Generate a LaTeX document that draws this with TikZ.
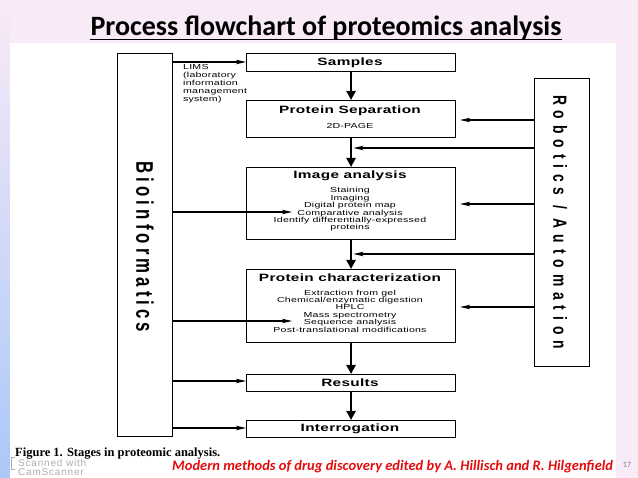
\documentclass[tikz,border=0pt]{standalone}
\usepackage{fontspec}
\setmainfont{Liberation Sans}
\newfontfamily\titlefont{Carlito}
\newfontfamily\diagfont[FakeStretch=1.45,LetterSpace=3]{Liberation Sans}
\newfontfamily\sidefontB[FakeStretch=0.7,LetterSpace=17]{Liberation Sans}
\newfontfamily\sidefontR[FakeStretch=0.73,LetterSpace=31]{Liberation Sans}
\newfontfamily\scanfont[LetterSpace=8]{Liberation Sans}
\newfontfamily\capfont{Liberation Serif}
\usetikzlibrary{arrows.meta}
\definecolor{bgpink}{RGB}{249,234,247}
\definecolor{stripblue}{RGB}{128,178,248}
\definecolor{stripblue2}{RGB}{170,200,248}
\definecolor{redtxt}{RGB}{228,12,12}
\definecolor{scangray}{RGB}{175,175,175}
\tikzset{
  box/.style={draw, line width=1.1pt, inner sep=0pt, anchor=north west},
  hdr/.style={font=\diagfont\bfseries\fontsize{10.6}{11}\selectfont, inner sep=0pt},
  body/.style={font=\diagfont\fontsize{7.3}{7.4}\selectfont, align=center, inner sep=0pt},
  bigarrow/.style={line width=2.6pt, -{Triangle[length=9pt,width=9pt]}},
  thinarrow/.style={line width=1.1pt, -{Stealth[length=10pt,width=4.5pt,inset=2.5pt]}},
}
\begin{document}
\begin{tikzpicture}[x=1pt,y=-1pt]
\useasboundingbox (0,0) rectangle (638,478);
\fill[bgpink] (0,0) rectangle (638,478);
\shade[top color=bgpink, middle color=stripblue, bottom color=stripblue2] (0,0) rectangle (10,478);
\fill[white] (10,43) rectangle (616,478);

% title
\node[font=\titlefont\bfseries\fontsize{28}{32}\selectfont, anchor=base, inner sep=0pt] (title) at (326,36) {Process flowchart of proteomics analysis};
\draw[line width=1.4pt] ([yshift=-3.5pt]title.base west) -- ([yshift=-3.5pt]title.base east);

% side boxes
\node[box, minimum width=55pt, minimum height=383pt] (bio) at (117,53) {};
\node[box, minimum width=55pt, minimum height=288pt] (robo) at (534,78) {};
\node[font=\sidefontB\bfseries\fontsize{24}{25}\selectfont, rotate=-90, inner sep=0pt] (biotxt) at (145,247) {Bioinformatics};
\node[font=\sidefontR\bfseries\fontsize{19}{20}\selectfont, rotate=-90, inner sep=0pt] (robotxt) at (560,222) {Robotics / Automation};

% main boxes
\node[box, minimum width=209pt, minimum height=18pt] (samples) at (246,53) {};
\node[box, minimum width=209pt, minimum height=37pt] (psep) at (246,100) {};
\node[box, minimum width=209pt, minimum height=72pt] (imga) at (246,167) {};
\node[box, minimum width=209pt, minimum height=73pt] (pchar) at (246,269) {};
\node[box, minimum width=209pt, minimum height=17pt] (results) at (246,374) {};
\node[box, minimum width=209pt, minimum height=17pt] (interr) at (246,420) {};

\node[hdr] (samplestxt) at (350,62.5) {Samples};
\node[hdr] (pseptxt) at (350,111) {Protein Separation};
\node[body] (pagetxt) at (350,126) {2D-PAGE};
\node[hdr] (imgatxt) at (350,175.5) {Image analysis};
\node[body] (imgabody) at (350,209.5) {Staining\\Imaging\\Digital protein map\\Comparative analysis\\Identify differentially-expressed\\proteins};
\node[hdr] (pchartxt) at (350,277.5) {Protein characterization};
\node[body] (pcharbody) at (350,311) {Extraction from gel\\Chemical/enzymatic digestion\\HPLC\\Mass spectrometry\\Sequence analysis\\Post-translational modifications};
\node[hdr] (resultstxt) at (350,382.5) {Results};
\node[hdr] (interrtxt) at (350,428.5) {Interrogation};

\node[font=\diagfont\fontsize{7.3}{8}\selectfont, align=left, anchor=north west, inner sep=0pt] (lims) at (183,64.5) {LIMS\\(laboratory\\information\\management\\system)};

% central thick arrows
\draw[bigarrow] (samples.south) -- (psep.north);
\draw[bigarrow] (psep.south) -- (imga.north);
\draw[bigarrow] (imga.south) -- (pchar.north);
\draw[bigarrow] (pchar.south) -- (results.north);
\draw[bigarrow] (results.south) -- (interr.north);

% left arrows from bioinformatics
\coordinate (iatip) at (292,212);
\coordinate (pctip) at (292,321);
\draw[thinarrow] (bio.east |- 0,62) -- (samples.west |- 0,62);
\draw[thinarrow] (bio.east |- iatip) -- (iatip);
\draw[thinarrow] (bio.east |- pctip) -- (pctip);
\draw[thinarrow] (bio.east |- 0,381) -- (results.west |- 0,381);
\draw[thinarrow] (bio.east |- 0,428) -- (interr.west |- 0,428);

% right arrows from robotics
\coordinate (c1) at (353.5,148);
\coordinate (c2) at (353.5,254);
\draw[thinarrow, shorten >=4pt] (robo.west |- 0,120) -- (psep.east |- 0,120);
\draw[thinarrow] (robo.west |- c1) -- (c1);
\draw[thinarrow, shorten >=4pt] (robo.west |- 0,204) -- (imga.east |- 0,204);
\draw[thinarrow] (robo.west |- c2) -- (c2);
\draw[thinarrow, shorten >=4pt] (robo.west |- 0,307) -- (pchar.east |- 0,307);

% caption and footer
\node[font=\capfont\bfseries\fontsize{12.5}{14}\selectfont, anchor=west, inner sep=0pt] (caption) at (15,454) {Figure 1. Stages in proteomic analysis.};
\node[font=\scanfont\fontsize{10}{10}\selectfont, text=scangray, anchor=west, inner sep=0pt] (scan1) at (18,463) {Scanned with};
\node[font=\scanfont\fontsize{10}{10}\selectfont, text=scangray, anchor=west, inner sep=0pt] (scan2) at (18,472.5) {CamScanner};
\draw[scangray, line width=1pt] (15,458) -- (11,458) -- (11,470) -- (15,470);
\node[font=\titlefont\bfseries\itshape\fontsize{14.5}{16}\selectfont, text=redtxt, anchor=west, inner sep=0pt] (ref) at (172,467) {Modern methods of drug discovery edited by A. Hillisch and R. Hilgenfield};
\node[font=\titlefont\fontsize{8}{9}\selectfont, text=gray, inner sep=0pt] (pnum) at (627,465) {17};
\end{tikzpicture}
\end{document}
